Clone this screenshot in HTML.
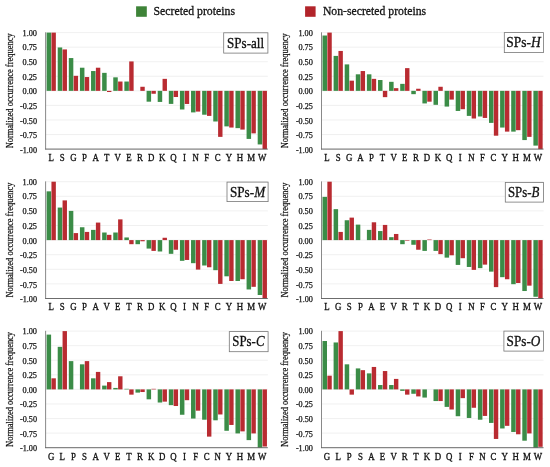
<!DOCTYPE html>
<html><head><meta charset="utf-8"><title>Normalized occurrence frequency</title>
<style>html,body{margin:0;padding:0;background:#fff}svg{display:block}</style></head><body>
<svg width="550" height="467" viewBox="0 0 550 467">
<rect width="550" height="467" fill="#fff"/>
<rect x="136.1" y="6.3" width="10.7" height="10.5" fill="#3e8338"/>
<text x="153.5" y="14.6" font-family="Liberation Serif, Times New Roman, serif" font-size="12.8" fill="#111" stroke="#111" stroke-width="0.3" textLength="81.5" lengthAdjust="spacingAndGlyphs">Secreted proteins</text>
<rect x="305.1" y="6.3" width="10.5" height="10.5" fill="#b2242a"/>
<text x="322.9" y="14.6" font-family="Liberation Serif, Times New Roman, serif" font-size="12.8" fill="#111" stroke="#111" stroke-width="0.3" textLength="103.2" lengthAdjust="spacingAndGlyphs">Non-secreted proteins</text>
<g>
<line x1="45.60" x2="267.80" y1="32.60" y2="32.60" stroke="#e6e6e6" stroke-width="0.6"/>
<text x="37.0" y="35.70" text-anchor="end" font-family="Liberation Serif, Times New Roman, serif" font-size="8.9" fill="#111" stroke="#111" stroke-width="0.25" textLength="14.5" lengthAdjust="spacingAndGlyphs" transform="translate(0.0,0)">1.00</text>
<line x1="45.60" x2="267.80" y1="47.16" y2="47.16" stroke="#e6e6e6" stroke-width="0.6"/>
<text x="37.0" y="50.34" text-anchor="end" font-family="Liberation Serif, Times New Roman, serif" font-size="8.9" fill="#111" stroke="#111" stroke-width="0.25" textLength="14.5" lengthAdjust="spacingAndGlyphs" transform="translate(0.0,0)">0.75</text>
<line x1="45.60" x2="267.80" y1="61.73" y2="61.73" stroke="#e6e6e6" stroke-width="0.6"/>
<text x="37.0" y="64.98" text-anchor="end" font-family="Liberation Serif, Times New Roman, serif" font-size="8.9" fill="#111" stroke="#111" stroke-width="0.25" textLength="14.5" lengthAdjust="spacingAndGlyphs" transform="translate(0.0,0)">0.50</text>
<line x1="45.60" x2="267.80" y1="76.29" y2="76.29" stroke="#e6e6e6" stroke-width="0.6"/>
<text x="37.0" y="79.61" text-anchor="end" font-family="Liberation Serif, Times New Roman, serif" font-size="8.9" fill="#111" stroke="#111" stroke-width="0.25" textLength="14.5" lengthAdjust="spacingAndGlyphs" transform="translate(0.0,0)">0.25</text>
<line x1="45.60" x2="267.80" y1="90.85" y2="90.85" stroke="#e6e6e6" stroke-width="0.6"/>
<text x="37.0" y="94.25" text-anchor="end" font-family="Liberation Serif, Times New Roman, serif" font-size="8.9" fill="#111" stroke="#111" stroke-width="0.25" textLength="14.5" lengthAdjust="spacingAndGlyphs" transform="translate(0.0,0)">0.00</text>
<line x1="45.60" x2="267.80" y1="105.41" y2="105.41" stroke="#e6e6e6" stroke-width="0.6"/>
<text x="37.0" y="108.89" text-anchor="end" font-family="Liberation Serif, Times New Roman, serif" font-size="8.9" fill="#111" stroke="#111" stroke-width="0.25" textLength="17.0" lengthAdjust="spacingAndGlyphs" transform="translate(0.0,0)">-0.25</text>
<line x1="45.60" x2="267.80" y1="119.97" y2="119.97" stroke="#e6e6e6" stroke-width="0.6"/>
<text x="37.0" y="123.52" text-anchor="end" font-family="Liberation Serif, Times New Roman, serif" font-size="8.9" fill="#111" stroke="#111" stroke-width="0.25" textLength="17.0" lengthAdjust="spacingAndGlyphs" transform="translate(0.0,0)">-0.50</text>
<line x1="45.60" x2="267.80" y1="134.54" y2="134.54" stroke="#e6e6e6" stroke-width="0.6"/>
<text x="37.0" y="138.16" text-anchor="end" font-family="Liberation Serif, Times New Roman, serif" font-size="8.9" fill="#111" stroke="#111" stroke-width="0.25" textLength="17.0" lengthAdjust="spacingAndGlyphs" transform="translate(0.0,0)">-0.75</text>
<line x1="45.60" x2="267.80" y1="149.10" y2="149.10" stroke="#e6e6e6" stroke-width="0.6"/>
<text x="37.0" y="152.80" text-anchor="end" font-family="Liberation Serif, Times New Roman, serif" font-size="8.9" fill="#111" stroke="#111" stroke-width="0.25" textLength="17.0" lengthAdjust="spacingAndGlyphs" transform="translate(0.0,0)">-1.00</text>
<rect x="46.60" y="32.60" width="4.5" height="58.25" fill="#3b8c47"/>
<rect x="51.45" y="32.60" width="4.4" height="58.25" fill="#b92b31"/>
<rect x="57.71" y="47.45" width="4.5" height="43.40" fill="#3b8c47"/>
<rect x="62.56" y="49.43" width="4.4" height="41.42" fill="#b92b31"/>
<rect x="68.82" y="58.06" width="4.5" height="32.79" fill="#3b8c47"/>
<rect x="73.67" y="75.82" width="4.4" height="15.03" fill="#b92b31"/>
<rect x="79.93" y="67.72" width="4.5" height="23.13" fill="#3b8c47"/>
<rect x="84.78" y="77.04" width="4.4" height="13.81" fill="#b92b31"/>
<rect x="91.04" y="71.04" width="4.5" height="19.80" fill="#3b8c47"/>
<rect x="95.89" y="67.72" width="4.4" height="23.13" fill="#b92b31"/>
<rect x="102.15" y="72.85" width="4.5" height="18.00" fill="#3b8c47"/>
<rect x="107.00" y="90.85" width="4.4" height="1.17" fill="#b92b31"/>
<rect x="113.26" y="77.34" width="4.5" height="13.51" fill="#3b8c47"/>
<rect x="118.11" y="81.53" width="4.4" height="9.32" fill="#b92b31"/>
<rect x="124.37" y="81.53" width="4.5" height="9.32" fill="#3b8c47"/>
<rect x="129.22" y="61.43" width="4.4" height="29.42" fill="#b92b31"/>
<rect x="140.33" y="86.77" width="4.4" height="4.08" fill="#b92b31"/>
<rect x="146.59" y="90.85" width="4.5" height="10.83" fill="#3b8c47"/>
<rect x="151.44" y="90.85" width="4.4" height="2.91" fill="#b92b31"/>
<rect x="157.70" y="90.85" width="4.5" height="11.07" fill="#3b8c47"/>
<rect x="162.55" y="78.85" width="4.4" height="12.00" fill="#b92b31"/>
<rect x="168.81" y="90.85" width="4.5" height="13.05" fill="#3b8c47"/>
<rect x="173.66" y="90.85" width="4.4" height="6.17" fill="#b92b31"/>
<rect x="179.92" y="90.85" width="4.5" height="18.64" fill="#3b8c47"/>
<rect x="184.77" y="90.85" width="4.4" height="13.11" fill="#b92b31"/>
<rect x="191.03" y="90.85" width="4.5" height="21.55" fill="#3b8c47"/>
<rect x="195.88" y="90.85" width="4.4" height="20.74" fill="#b92b31"/>
<rect x="202.14" y="90.85" width="4.5" height="23.88" fill="#3b8c47"/>
<rect x="206.99" y="90.85" width="4.4" height="25.05" fill="#b92b31"/>
<rect x="213.25" y="90.85" width="4.5" height="30.64" fill="#3b8c47"/>
<rect x="218.10" y="90.85" width="4.4" height="46.02" fill="#b92b31"/>
<rect x="224.36" y="90.85" width="4.5" height="35.53" fill="#3b8c47"/>
<rect x="229.21" y="90.85" width="4.4" height="36.70" fill="#b92b31"/>
<rect x="235.47" y="90.85" width="4.5" height="37.28" fill="#3b8c47"/>
<rect x="240.32" y="90.85" width="4.4" height="38.74" fill="#b92b31"/>
<rect x="246.58" y="90.85" width="4.5" height="48.06" fill="#3b8c47"/>
<rect x="251.43" y="90.85" width="4.4" height="42.52" fill="#b92b31"/>
<rect x="257.69" y="90.85" width="4.5" height="53.59" fill="#3b8c47"/>
<rect x="262.54" y="90.85" width="4.4" height="58.25" fill="#b92b31"/>
<line x1="45.60" x2="45.60" y1="32.30" y2="149.50" stroke="#7c7c7c" stroke-width="0.9"/>
<line x1="45.20" x2="267.80" y1="149.10" y2="149.10" stroke="#5c5c5c" stroke-width="0.9"/>
<text transform="translate(51.16,161.10) scale(0.94,1)" text-anchor="middle" font-family="Liberation Serif, Times New Roman, serif" font-size="9.4" fill="#111" stroke="#111" stroke-width="0.3">L</text>
<text transform="translate(62.27,161.10) scale(0.94,1)" text-anchor="middle" font-family="Liberation Serif, Times New Roman, serif" font-size="9.4" fill="#111" stroke="#111" stroke-width="0.3">S</text>
<text transform="translate(73.38,161.10) scale(0.94,1)" text-anchor="middle" font-family="Liberation Serif, Times New Roman, serif" font-size="9.4" fill="#111" stroke="#111" stroke-width="0.3">G</text>
<text transform="translate(84.49,161.10) scale(0.94,1)" text-anchor="middle" font-family="Liberation Serif, Times New Roman, serif" font-size="9.4" fill="#111" stroke="#111" stroke-width="0.3">P</text>
<text transform="translate(95.59,161.10) scale(0.94,1)" text-anchor="middle" font-family="Liberation Serif, Times New Roman, serif" font-size="9.4" fill="#111" stroke="#111" stroke-width="0.3">A</text>
<text transform="translate(106.71,161.10) scale(0.94,1)" text-anchor="middle" font-family="Liberation Serif, Times New Roman, serif" font-size="9.4" fill="#111" stroke="#111" stroke-width="0.3">T</text>
<text transform="translate(117.81,161.10) scale(0.94,1)" text-anchor="middle" font-family="Liberation Serif, Times New Roman, serif" font-size="9.4" fill="#111" stroke="#111" stroke-width="0.3">V</text>
<text transform="translate(128.93,161.10) scale(0.94,1)" text-anchor="middle" font-family="Liberation Serif, Times New Roman, serif" font-size="9.4" fill="#111" stroke="#111" stroke-width="0.3">E</text>
<text transform="translate(140.04,161.10) scale(0.94,1)" text-anchor="middle" font-family="Liberation Serif, Times New Roman, serif" font-size="9.4" fill="#111" stroke="#111" stroke-width="0.3">R</text>
<text transform="translate(151.15,161.10) scale(0.94,1)" text-anchor="middle" font-family="Liberation Serif, Times New Roman, serif" font-size="9.4" fill="#111" stroke="#111" stroke-width="0.3">D</text>
<text transform="translate(162.26,161.10) scale(0.94,1)" text-anchor="middle" font-family="Liberation Serif, Times New Roman, serif" font-size="9.4" fill="#111" stroke="#111" stroke-width="0.3">K</text>
<text transform="translate(173.37,161.10) scale(0.94,1)" text-anchor="middle" font-family="Liberation Serif, Times New Roman, serif" font-size="9.4" fill="#111" stroke="#111" stroke-width="0.3">Q</text>
<text transform="translate(184.48,161.10) scale(0.94,1)" text-anchor="middle" font-family="Liberation Serif, Times New Roman, serif" font-size="9.4" fill="#111" stroke="#111" stroke-width="0.3">I</text>
<text transform="translate(195.59,161.10) scale(0.94,1)" text-anchor="middle" font-family="Liberation Serif, Times New Roman, serif" font-size="9.4" fill="#111" stroke="#111" stroke-width="0.3">N</text>
<text transform="translate(206.70,161.10) scale(0.94,1)" text-anchor="middle" font-family="Liberation Serif, Times New Roman, serif" font-size="9.4" fill="#111" stroke="#111" stroke-width="0.3">F</text>
<text transform="translate(217.81,161.10) scale(0.94,1)" text-anchor="middle" font-family="Liberation Serif, Times New Roman, serif" font-size="9.4" fill="#111" stroke="#111" stroke-width="0.3">C</text>
<text transform="translate(228.92,161.10) scale(0.94,1)" text-anchor="middle" font-family="Liberation Serif, Times New Roman, serif" font-size="9.4" fill="#111" stroke="#111" stroke-width="0.3">Y</text>
<text transform="translate(240.03,161.10) scale(0.94,1)" text-anchor="middle" font-family="Liberation Serif, Times New Roman, serif" font-size="9.4" fill="#111" stroke="#111" stroke-width="0.3">H</text>
<text transform="translate(251.14,161.10) scale(0.94,1)" text-anchor="middle" font-family="Liberation Serif, Times New Roman, serif" font-size="9.4" fill="#111" stroke="#111" stroke-width="0.3">M</text>
<text transform="translate(262.25,161.10) scale(0.94,1)" text-anchor="middle" font-family="Liberation Serif, Times New Roman, serif" font-size="9.4" fill="#111" stroke="#111" stroke-width="0.3">W</text>
<text transform="translate(12.60,90.85) rotate(-90)" text-anchor="middle" font-family="Liberation Serif, Times New Roman, serif" font-size="9.6" fill="#111" stroke="#111" stroke-width="0.22" textLength="115" lengthAdjust="spacingAndGlyphs">Normalized occurrence frequency</text>
<rect x="223.7" y="32.8" width="44.20" height="20.30" fill="#fff" stroke="#777" stroke-width="0.8"/>
<text x="227.05" y="47.65" font-family="Liberation Serif, Times New Roman, serif" font-size="14.3" fill="#111" stroke="#111" stroke-width="0.3" textLength="37.1" lengthAdjust="spacingAndGlyphs">SPs-all</text>
</g>
<g>
<line x1="321.50" x2="543.50" y1="32.60" y2="32.60" stroke="#e6e6e6" stroke-width="0.6"/>
<text x="37.0" y="35.70" text-anchor="end" font-family="Liberation Serif, Times New Roman, serif" font-size="8.9" fill="#111" stroke="#111" stroke-width="0.25" textLength="14.5" lengthAdjust="spacingAndGlyphs" transform="translate(275.9,0)">1.00</text>
<line x1="321.50" x2="543.50" y1="47.16" y2="47.16" stroke="#e6e6e6" stroke-width="0.6"/>
<text x="37.0" y="50.34" text-anchor="end" font-family="Liberation Serif, Times New Roman, serif" font-size="8.9" fill="#111" stroke="#111" stroke-width="0.25" textLength="14.5" lengthAdjust="spacingAndGlyphs" transform="translate(275.9,0)">0.75</text>
<line x1="321.50" x2="543.50" y1="61.73" y2="61.73" stroke="#e6e6e6" stroke-width="0.6"/>
<text x="37.0" y="64.98" text-anchor="end" font-family="Liberation Serif, Times New Roman, serif" font-size="8.9" fill="#111" stroke="#111" stroke-width="0.25" textLength="14.5" lengthAdjust="spacingAndGlyphs" transform="translate(275.9,0)">0.50</text>
<line x1="321.50" x2="543.50" y1="76.29" y2="76.29" stroke="#e6e6e6" stroke-width="0.6"/>
<text x="37.0" y="79.61" text-anchor="end" font-family="Liberation Serif, Times New Roman, serif" font-size="8.9" fill="#111" stroke="#111" stroke-width="0.25" textLength="14.5" lengthAdjust="spacingAndGlyphs" transform="translate(275.9,0)">0.25</text>
<line x1="321.50" x2="543.50" y1="90.85" y2="90.85" stroke="#e6e6e6" stroke-width="0.6"/>
<text x="37.0" y="94.25" text-anchor="end" font-family="Liberation Serif, Times New Roman, serif" font-size="8.9" fill="#111" stroke="#111" stroke-width="0.25" textLength="14.5" lengthAdjust="spacingAndGlyphs" transform="translate(275.9,0)">0.00</text>
<line x1="321.50" x2="543.50" y1="105.41" y2="105.41" stroke="#e6e6e6" stroke-width="0.6"/>
<text x="37.0" y="108.89" text-anchor="end" font-family="Liberation Serif, Times New Roman, serif" font-size="8.9" fill="#111" stroke="#111" stroke-width="0.25" textLength="17.0" lengthAdjust="spacingAndGlyphs" transform="translate(275.9,0)">-0.25</text>
<line x1="321.50" x2="543.50" y1="119.97" y2="119.97" stroke="#e6e6e6" stroke-width="0.6"/>
<text x="37.0" y="123.52" text-anchor="end" font-family="Liberation Serif, Times New Roman, serif" font-size="8.9" fill="#111" stroke="#111" stroke-width="0.25" textLength="17.0" lengthAdjust="spacingAndGlyphs" transform="translate(275.9,0)">-0.50</text>
<line x1="321.50" x2="543.50" y1="134.54" y2="134.54" stroke="#e6e6e6" stroke-width="0.6"/>
<text x="37.0" y="138.16" text-anchor="end" font-family="Liberation Serif, Times New Roman, serif" font-size="8.9" fill="#111" stroke="#111" stroke-width="0.25" textLength="17.0" lengthAdjust="spacingAndGlyphs" transform="translate(275.9,0)">-0.75</text>
<line x1="321.50" x2="543.50" y1="149.10" y2="149.10" stroke="#e6e6e6" stroke-width="0.6"/>
<text x="37.0" y="152.80" text-anchor="end" font-family="Liberation Serif, Times New Roman, serif" font-size="8.9" fill="#111" stroke="#111" stroke-width="0.25" textLength="17.0" lengthAdjust="spacingAndGlyphs" transform="translate(275.9,0)">-1.00</text>
<rect x="322.50" y="35.51" width="4.5" height="55.34" fill="#3b8c47"/>
<rect x="327.35" y="32.60" width="4.4" height="58.25" fill="#b92b31"/>
<rect x="333.60" y="55.90" width="4.5" height="34.95" fill="#3b8c47"/>
<rect x="338.45" y="50.95" width="4.4" height="39.90" fill="#b92b31"/>
<rect x="344.70" y="64.40" width="4.5" height="26.45" fill="#3b8c47"/>
<rect x="349.55" y="80.66" width="4.4" height="10.19" fill="#b92b31"/>
<rect x="355.80" y="74.31" width="4.5" height="16.54" fill="#3b8c47"/>
<rect x="360.65" y="71.04" width="4.4" height="19.80" fill="#b92b31"/>
<rect x="366.90" y="74.31" width="4.5" height="16.54" fill="#3b8c47"/>
<rect x="371.75" y="78.85" width="4.4" height="12.00" fill="#b92b31"/>
<rect x="378.00" y="80.02" width="4.5" height="10.83" fill="#3b8c47"/>
<rect x="382.85" y="90.85" width="4.4" height="6.29" fill="#b92b31"/>
<rect x="389.10" y="81.82" width="4.5" height="9.03" fill="#3b8c47"/>
<rect x="393.95" y="88.17" width="4.4" height="2.68" fill="#b92b31"/>
<rect x="400.20" y="83.86" width="4.5" height="6.99" fill="#3b8c47"/>
<rect x="405.05" y="68.13" width="4.4" height="22.72" fill="#b92b31"/>
<rect x="411.30" y="90.85" width="4.5" height="3.32" fill="#3b8c47"/>
<rect x="416.15" y="88.75" width="4.4" height="2.10" fill="#b92b31"/>
<rect x="422.40" y="90.85" width="4.5" height="12.58" fill="#3b8c47"/>
<rect x="427.25" y="90.85" width="4.4" height="10.83" fill="#b92b31"/>
<rect x="433.50" y="90.85" width="4.5" height="13.98" fill="#3b8c47"/>
<rect x="438.35" y="86.77" width="4.4" height="4.08" fill="#b92b31"/>
<rect x="444.60" y="90.85" width="4.5" height="15.73" fill="#3b8c47"/>
<rect x="449.45" y="90.85" width="4.4" height="8.74" fill="#b92b31"/>
<rect x="455.70" y="90.85" width="4.5" height="20.10" fill="#3b8c47"/>
<rect x="460.55" y="90.85" width="4.4" height="18.35" fill="#b92b31"/>
<rect x="466.80" y="90.85" width="4.5" height="25.05" fill="#3b8c47"/>
<rect x="471.65" y="90.85" width="4.4" height="27.67" fill="#b92b31"/>
<rect x="477.90" y="90.85" width="4.5" height="25.63" fill="#3b8c47"/>
<rect x="482.75" y="90.85" width="4.4" height="27.09" fill="#b92b31"/>
<rect x="489.00" y="90.85" width="4.5" height="32.04" fill="#3b8c47"/>
<rect x="493.85" y="90.85" width="4.4" height="44.85" fill="#b92b31"/>
<rect x="500.10" y="90.85" width="4.5" height="36.70" fill="#3b8c47"/>
<rect x="504.95" y="90.85" width="4.4" height="40.77" fill="#b92b31"/>
<rect x="511.20" y="90.85" width="4.5" height="40.77" fill="#3b8c47"/>
<rect x="516.05" y="90.85" width="4.4" height="39.32" fill="#b92b31"/>
<rect x="522.30" y="90.85" width="4.5" height="49.22" fill="#3b8c47"/>
<rect x="527.15" y="90.85" width="4.4" height="46.02" fill="#b92b31"/>
<rect x="533.40" y="90.85" width="4.5" height="54.75" fill="#3b8c47"/>
<rect x="538.25" y="90.85" width="4.4" height="58.25" fill="#b92b31"/>
<line x1="321.50" x2="321.50" y1="32.30" y2="149.50" stroke="#7c7c7c" stroke-width="0.9"/>
<line x1="321.10" x2="543.50" y1="149.10" y2="149.10" stroke="#5c5c5c" stroke-width="0.9"/>
<text transform="translate(327.05,161.10) scale(0.94,1)" text-anchor="middle" font-family="Liberation Serif, Times New Roman, serif" font-size="9.4" fill="#111" stroke="#111" stroke-width="0.3">L</text>
<text transform="translate(338.15,161.10) scale(0.94,1)" text-anchor="middle" font-family="Liberation Serif, Times New Roman, serif" font-size="9.4" fill="#111" stroke="#111" stroke-width="0.3">S</text>
<text transform="translate(349.25,161.10) scale(0.94,1)" text-anchor="middle" font-family="Liberation Serif, Times New Roman, serif" font-size="9.4" fill="#111" stroke="#111" stroke-width="0.3">G</text>
<text transform="translate(360.35,161.10) scale(0.94,1)" text-anchor="middle" font-family="Liberation Serif, Times New Roman, serif" font-size="9.4" fill="#111" stroke="#111" stroke-width="0.3">A</text>
<text transform="translate(371.45,161.10) scale(0.94,1)" text-anchor="middle" font-family="Liberation Serif, Times New Roman, serif" font-size="9.4" fill="#111" stroke="#111" stroke-width="0.3">P</text>
<text transform="translate(382.55,161.10) scale(0.94,1)" text-anchor="middle" font-family="Liberation Serif, Times New Roman, serif" font-size="9.4" fill="#111" stroke="#111" stroke-width="0.3">T</text>
<text transform="translate(393.65,161.10) scale(0.94,1)" text-anchor="middle" font-family="Liberation Serif, Times New Roman, serif" font-size="9.4" fill="#111" stroke="#111" stroke-width="0.3">V</text>
<text transform="translate(404.75,161.10) scale(0.94,1)" text-anchor="middle" font-family="Liberation Serif, Times New Roman, serif" font-size="9.4" fill="#111" stroke="#111" stroke-width="0.3">E</text>
<text transform="translate(415.85,161.10) scale(0.94,1)" text-anchor="middle" font-family="Liberation Serif, Times New Roman, serif" font-size="9.4" fill="#111" stroke="#111" stroke-width="0.3">R</text>
<text transform="translate(426.95,161.10) scale(0.94,1)" text-anchor="middle" font-family="Liberation Serif, Times New Roman, serif" font-size="9.4" fill="#111" stroke="#111" stroke-width="0.3">D</text>
<text transform="translate(438.05,161.10) scale(0.94,1)" text-anchor="middle" font-family="Liberation Serif, Times New Roman, serif" font-size="9.4" fill="#111" stroke="#111" stroke-width="0.3">K</text>
<text transform="translate(449.15,161.10) scale(0.94,1)" text-anchor="middle" font-family="Liberation Serif, Times New Roman, serif" font-size="9.4" fill="#111" stroke="#111" stroke-width="0.3">Q</text>
<text transform="translate(460.25,161.10) scale(0.94,1)" text-anchor="middle" font-family="Liberation Serif, Times New Roman, serif" font-size="9.4" fill="#111" stroke="#111" stroke-width="0.3">I</text>
<text transform="translate(471.35,161.10) scale(0.94,1)" text-anchor="middle" font-family="Liberation Serif, Times New Roman, serif" font-size="9.4" fill="#111" stroke="#111" stroke-width="0.3">N</text>
<text transform="translate(482.45,161.10) scale(0.94,1)" text-anchor="middle" font-family="Liberation Serif, Times New Roman, serif" font-size="9.4" fill="#111" stroke="#111" stroke-width="0.3">F</text>
<text transform="translate(493.55,161.10) scale(0.94,1)" text-anchor="middle" font-family="Liberation Serif, Times New Roman, serif" font-size="9.4" fill="#111" stroke="#111" stroke-width="0.3">C</text>
<text transform="translate(504.65,161.10) scale(0.94,1)" text-anchor="middle" font-family="Liberation Serif, Times New Roman, serif" font-size="9.4" fill="#111" stroke="#111" stroke-width="0.3">Y</text>
<text transform="translate(515.75,161.10) scale(0.94,1)" text-anchor="middle" font-family="Liberation Serif, Times New Roman, serif" font-size="9.4" fill="#111" stroke="#111" stroke-width="0.3">H</text>
<text transform="translate(526.85,161.10) scale(0.94,1)" text-anchor="middle" font-family="Liberation Serif, Times New Roman, serif" font-size="9.4" fill="#111" stroke="#111" stroke-width="0.3">M</text>
<text transform="translate(537.95,161.10) scale(0.94,1)" text-anchor="middle" font-family="Liberation Serif, Times New Roman, serif" font-size="9.4" fill="#111" stroke="#111" stroke-width="0.3">W</text>
<text transform="translate(287.80,90.85) rotate(-90)" text-anchor="middle" font-family="Liberation Serif, Times New Roman, serif" font-size="9.6" fill="#111" stroke="#111" stroke-width="0.22" textLength="115" lengthAdjust="spacingAndGlyphs">Normalized occurrence frequency</text>
<rect x="504.3" y="32.6" width="39.20" height="20.00" fill="#fff" stroke="#777" stroke-width="0.8"/>
<text x="506.20" y="47.30" font-family="Liberation Serif, Times New Roman, serif" font-size="14.3" fill="#111" stroke="#111" stroke-width="0.3" textLength="34.5" lengthAdjust="spacingAndGlyphs">SPs-<tspan font-style="italic">H</tspan></text>
</g>
<g>
<line x1="45.60" x2="267.80" y1="181.70" y2="181.70" stroke="#e6e6e6" stroke-width="0.6"/>
<text x="37.0" y="184.80" text-anchor="end" font-family="Liberation Serif, Times New Roman, serif" font-size="8.9" fill="#111" stroke="#111" stroke-width="0.25" textLength="14.5" lengthAdjust="spacingAndGlyphs" transform="translate(0.0,0)">1.00</text>
<line x1="45.60" x2="267.80" y1="196.30" y2="196.30" stroke="#e6e6e6" stroke-width="0.6"/>
<text x="37.0" y="199.47" text-anchor="end" font-family="Liberation Serif, Times New Roman, serif" font-size="8.9" fill="#111" stroke="#111" stroke-width="0.25" textLength="14.5" lengthAdjust="spacingAndGlyphs" transform="translate(0.0,0)">0.75</text>
<line x1="45.60" x2="267.80" y1="210.90" y2="210.90" stroke="#e6e6e6" stroke-width="0.6"/>
<text x="37.0" y="214.15" text-anchor="end" font-family="Liberation Serif, Times New Roman, serif" font-size="8.9" fill="#111" stroke="#111" stroke-width="0.25" textLength="14.5" lengthAdjust="spacingAndGlyphs" transform="translate(0.0,0)">0.50</text>
<line x1="45.60" x2="267.80" y1="225.50" y2="225.50" stroke="#e6e6e6" stroke-width="0.6"/>
<text x="37.0" y="228.82" text-anchor="end" font-family="Liberation Serif, Times New Roman, serif" font-size="8.9" fill="#111" stroke="#111" stroke-width="0.25" textLength="14.5" lengthAdjust="spacingAndGlyphs" transform="translate(0.0,0)">0.25</text>
<line x1="45.60" x2="267.80" y1="240.10" y2="240.10" stroke="#e6e6e6" stroke-width="0.6"/>
<text x="37.0" y="243.50" text-anchor="end" font-family="Liberation Serif, Times New Roman, serif" font-size="8.9" fill="#111" stroke="#111" stroke-width="0.25" textLength="14.5" lengthAdjust="spacingAndGlyphs" transform="translate(0.0,0)">0.00</text>
<line x1="45.60" x2="267.80" y1="254.70" y2="254.70" stroke="#e6e6e6" stroke-width="0.6"/>
<text x="37.0" y="258.18" text-anchor="end" font-family="Liberation Serif, Times New Roman, serif" font-size="8.9" fill="#111" stroke="#111" stroke-width="0.25" textLength="17.0" lengthAdjust="spacingAndGlyphs" transform="translate(0.0,0)">-0.25</text>
<line x1="45.60" x2="267.80" y1="269.30" y2="269.30" stroke="#e6e6e6" stroke-width="0.6"/>
<text x="37.0" y="272.85" text-anchor="end" font-family="Liberation Serif, Times New Roman, serif" font-size="8.9" fill="#111" stroke="#111" stroke-width="0.25" textLength="17.0" lengthAdjust="spacingAndGlyphs" transform="translate(0.0,0)">-0.50</text>
<line x1="45.60" x2="267.80" y1="283.90" y2="283.90" stroke="#e6e6e6" stroke-width="0.6"/>
<text x="37.0" y="287.52" text-anchor="end" font-family="Liberation Serif, Times New Roman, serif" font-size="8.9" fill="#111" stroke="#111" stroke-width="0.25" textLength="17.0" lengthAdjust="spacingAndGlyphs" transform="translate(0.0,0)">-0.75</text>
<line x1="45.60" x2="267.80" y1="298.50" y2="298.50" stroke="#e6e6e6" stroke-width="0.6"/>
<text x="37.0" y="302.20" text-anchor="end" font-family="Liberation Serif, Times New Roman, serif" font-size="8.9" fill="#111" stroke="#111" stroke-width="0.25" textLength="17.0" lengthAdjust="spacingAndGlyphs" transform="translate(0.0,0)">-1.00</text>
<rect x="46.60" y="191.34" width="4.5" height="48.76" fill="#3b8c47"/>
<rect x="51.45" y="181.70" width="4.4" height="58.40" fill="#b92b31"/>
<rect x="57.71" y="207.57" width="4.5" height="32.53" fill="#3b8c47"/>
<rect x="62.56" y="200.39" width="4.4" height="39.71" fill="#b92b31"/>
<rect x="68.82" y="210.90" width="4.5" height="29.20" fill="#3b8c47"/>
<rect x="73.67" y="233.09" width="4.4" height="7.01" fill="#b92b31"/>
<rect x="79.93" y="227.25" width="4.5" height="12.85" fill="#3b8c47"/>
<rect x="84.78" y="231.92" width="4.4" height="8.18" fill="#b92b31"/>
<rect x="91.04" y="229.88" width="4.5" height="10.22" fill="#3b8c47"/>
<rect x="95.89" y="222.58" width="4.4" height="17.52" fill="#b92b31"/>
<rect x="102.15" y="232.51" width="4.5" height="7.59" fill="#3b8c47"/>
<rect x="107.00" y="234.84" width="4.4" height="5.26" fill="#b92b31"/>
<rect x="113.26" y="232.51" width="4.5" height="7.59" fill="#3b8c47"/>
<rect x="118.11" y="219.37" width="4.4" height="20.73" fill="#b92b31"/>
<rect x="124.37" y="237.47" width="4.5" height="2.63" fill="#3b8c47"/>
<rect x="129.22" y="240.10" width="4.4" height="4.09" fill="#b92b31"/>
<rect x="135.48" y="240.10" width="4.5" height="4.09" fill="#3b8c47"/>
<rect x="140.33" y="240.10" width="4.4" height="1.17" fill="#b92b31"/>
<rect x="146.59" y="240.10" width="4.5" height="8.47" fill="#3b8c47"/>
<rect x="151.44" y="240.10" width="4.4" height="10.80" fill="#b92b31"/>
<rect x="157.70" y="240.10" width="4.5" height="11.39" fill="#3b8c47"/>
<rect x="162.55" y="237.76" width="4.4" height="2.34" fill="#b92b31"/>
<rect x="168.81" y="240.10" width="4.5" height="13.72" fill="#3b8c47"/>
<rect x="173.66" y="240.10" width="4.4" height="9.64" fill="#b92b31"/>
<rect x="179.92" y="240.10" width="4.5" height="20.73" fill="#3b8c47"/>
<rect x="184.77" y="240.10" width="4.4" height="19.86" fill="#b92b31"/>
<rect x="191.03" y="240.10" width="4.5" height="23.07" fill="#3b8c47"/>
<rect x="195.88" y="240.10" width="4.4" height="29.49" fill="#b92b31"/>
<rect x="202.14" y="240.10" width="4.5" height="25.40" fill="#3b8c47"/>
<rect x="206.99" y="240.10" width="4.4" height="27.16" fill="#b92b31"/>
<rect x="213.25" y="240.10" width="4.5" height="30.08" fill="#3b8c47"/>
<rect x="218.10" y="240.10" width="4.4" height="43.80" fill="#b92b31"/>
<rect x="224.36" y="240.10" width="4.5" height="36.21" fill="#3b8c47"/>
<rect x="229.21" y="240.10" width="4.4" height="40.88" fill="#b92b31"/>
<rect x="235.47" y="240.10" width="4.5" height="40.88" fill="#3b8c47"/>
<rect x="240.32" y="240.10" width="4.4" height="39.13" fill="#b92b31"/>
<rect x="246.58" y="240.10" width="4.5" height="49.35" fill="#3b8c47"/>
<rect x="251.43" y="240.10" width="4.4" height="46.72" fill="#b92b31"/>
<rect x="257.69" y="240.10" width="4.5" height="54.90" fill="#3b8c47"/>
<rect x="262.54" y="240.10" width="4.4" height="58.40" fill="#b92b31"/>
<line x1="45.60" x2="45.60" y1="181.40" y2="298.90" stroke="#7c7c7c" stroke-width="0.9"/>
<line x1="45.20" x2="267.80" y1="298.50" y2="298.50" stroke="#5c5c5c" stroke-width="0.9"/>
<text transform="translate(51.16,310.30) scale(0.94,1)" text-anchor="middle" font-family="Liberation Serif, Times New Roman, serif" font-size="9.4" fill="#111" stroke="#111" stroke-width="0.3">L</text>
<text transform="translate(62.27,310.30) scale(0.94,1)" text-anchor="middle" font-family="Liberation Serif, Times New Roman, serif" font-size="9.4" fill="#111" stroke="#111" stroke-width="0.3">S</text>
<text transform="translate(73.38,310.30) scale(0.94,1)" text-anchor="middle" font-family="Liberation Serif, Times New Roman, serif" font-size="9.4" fill="#111" stroke="#111" stroke-width="0.3">G</text>
<text transform="translate(84.49,310.30) scale(0.94,1)" text-anchor="middle" font-family="Liberation Serif, Times New Roman, serif" font-size="9.4" fill="#111" stroke="#111" stroke-width="0.3">P</text>
<text transform="translate(95.59,310.30) scale(0.94,1)" text-anchor="middle" font-family="Liberation Serif, Times New Roman, serif" font-size="9.4" fill="#111" stroke="#111" stroke-width="0.3">A</text>
<text transform="translate(106.71,310.30) scale(0.94,1)" text-anchor="middle" font-family="Liberation Serif, Times New Roman, serif" font-size="9.4" fill="#111" stroke="#111" stroke-width="0.3">V</text>
<text transform="translate(117.81,310.30) scale(0.94,1)" text-anchor="middle" font-family="Liberation Serif, Times New Roman, serif" font-size="9.4" fill="#111" stroke="#111" stroke-width="0.3">E</text>
<text transform="translate(128.93,310.30) scale(0.94,1)" text-anchor="middle" font-family="Liberation Serif, Times New Roman, serif" font-size="9.4" fill="#111" stroke="#111" stroke-width="0.3">T</text>
<text transform="translate(140.04,310.30) scale(0.94,1)" text-anchor="middle" font-family="Liberation Serif, Times New Roman, serif" font-size="9.4" fill="#111" stroke="#111" stroke-width="0.3">R</text>
<text transform="translate(151.15,310.30) scale(0.94,1)" text-anchor="middle" font-family="Liberation Serif, Times New Roman, serif" font-size="9.4" fill="#111" stroke="#111" stroke-width="0.3">D</text>
<text transform="translate(162.26,310.30) scale(0.94,1)" text-anchor="middle" font-family="Liberation Serif, Times New Roman, serif" font-size="9.4" fill="#111" stroke="#111" stroke-width="0.3">K</text>
<text transform="translate(173.37,310.30) scale(0.94,1)" text-anchor="middle" font-family="Liberation Serif, Times New Roman, serif" font-size="9.4" fill="#111" stroke="#111" stroke-width="0.3">Q</text>
<text transform="translate(184.48,310.30) scale(0.94,1)" text-anchor="middle" font-family="Liberation Serif, Times New Roman, serif" font-size="9.4" fill="#111" stroke="#111" stroke-width="0.3">I</text>
<text transform="translate(195.59,310.30) scale(0.94,1)" text-anchor="middle" font-family="Liberation Serif, Times New Roman, serif" font-size="9.4" fill="#111" stroke="#111" stroke-width="0.3">N</text>
<text transform="translate(206.70,310.30) scale(0.94,1)" text-anchor="middle" font-family="Liberation Serif, Times New Roman, serif" font-size="9.4" fill="#111" stroke="#111" stroke-width="0.3">F</text>
<text transform="translate(217.81,310.30) scale(0.94,1)" text-anchor="middle" font-family="Liberation Serif, Times New Roman, serif" font-size="9.4" fill="#111" stroke="#111" stroke-width="0.3">C</text>
<text transform="translate(228.92,310.30) scale(0.94,1)" text-anchor="middle" font-family="Liberation Serif, Times New Roman, serif" font-size="9.4" fill="#111" stroke="#111" stroke-width="0.3">Y</text>
<text transform="translate(240.03,310.30) scale(0.94,1)" text-anchor="middle" font-family="Liberation Serif, Times New Roman, serif" font-size="9.4" fill="#111" stroke="#111" stroke-width="0.3">H</text>
<text transform="translate(251.14,310.30) scale(0.94,1)" text-anchor="middle" font-family="Liberation Serif, Times New Roman, serif" font-size="9.4" fill="#111" stroke="#111" stroke-width="0.3">M</text>
<text transform="translate(262.25,310.30) scale(0.94,1)" text-anchor="middle" font-family="Liberation Serif, Times New Roman, serif" font-size="9.4" fill="#111" stroke="#111" stroke-width="0.3">W</text>
<text transform="translate(12.60,240.10) rotate(-90)" text-anchor="middle" font-family="Liberation Serif, Times New Roman, serif" font-size="9.6" fill="#111" stroke="#111" stroke-width="0.22" textLength="115" lengthAdjust="spacingAndGlyphs">Normalized occurrence frequency</text>
<rect x="227.0" y="182.1" width="41.10" height="19.50" fill="#fff" stroke="#777" stroke-width="0.8"/>
<text x="229.95" y="196.55" font-family="Liberation Serif, Times New Roman, serif" font-size="14.3" fill="#111" stroke="#111" stroke-width="0.3" textLength="35.2" lengthAdjust="spacingAndGlyphs">SPs-<tspan font-style="italic">M</tspan></text>
</g>
<g>
<line x1="321.50" x2="543.50" y1="181.70" y2="181.70" stroke="#e6e6e6" stroke-width="0.6"/>
<text x="37.0" y="184.80" text-anchor="end" font-family="Liberation Serif, Times New Roman, serif" font-size="8.9" fill="#111" stroke="#111" stroke-width="0.25" textLength="14.5" lengthAdjust="spacingAndGlyphs" transform="translate(275.9,0)">1.00</text>
<line x1="321.50" x2="543.50" y1="196.30" y2="196.30" stroke="#e6e6e6" stroke-width="0.6"/>
<text x="37.0" y="199.47" text-anchor="end" font-family="Liberation Serif, Times New Roman, serif" font-size="8.9" fill="#111" stroke="#111" stroke-width="0.25" textLength="14.5" lengthAdjust="spacingAndGlyphs" transform="translate(275.9,0)">0.75</text>
<line x1="321.50" x2="543.50" y1="210.90" y2="210.90" stroke="#e6e6e6" stroke-width="0.6"/>
<text x="37.0" y="214.15" text-anchor="end" font-family="Liberation Serif, Times New Roman, serif" font-size="8.9" fill="#111" stroke="#111" stroke-width="0.25" textLength="14.5" lengthAdjust="spacingAndGlyphs" transform="translate(275.9,0)">0.50</text>
<line x1="321.50" x2="543.50" y1="225.50" y2="225.50" stroke="#e6e6e6" stroke-width="0.6"/>
<text x="37.0" y="228.82" text-anchor="end" font-family="Liberation Serif, Times New Roman, serif" font-size="8.9" fill="#111" stroke="#111" stroke-width="0.25" textLength="14.5" lengthAdjust="spacingAndGlyphs" transform="translate(275.9,0)">0.25</text>
<line x1="321.50" x2="543.50" y1="240.10" y2="240.10" stroke="#e6e6e6" stroke-width="0.6"/>
<text x="37.0" y="243.50" text-anchor="end" font-family="Liberation Serif, Times New Roman, serif" font-size="8.9" fill="#111" stroke="#111" stroke-width="0.25" textLength="14.5" lengthAdjust="spacingAndGlyphs" transform="translate(275.9,0)">0.00</text>
<line x1="321.50" x2="543.50" y1="254.70" y2="254.70" stroke="#e6e6e6" stroke-width="0.6"/>
<text x="37.0" y="258.18" text-anchor="end" font-family="Liberation Serif, Times New Roman, serif" font-size="8.9" fill="#111" stroke="#111" stroke-width="0.25" textLength="17.0" lengthAdjust="spacingAndGlyphs" transform="translate(275.9,0)">-0.25</text>
<line x1="321.50" x2="543.50" y1="269.30" y2="269.30" stroke="#e6e6e6" stroke-width="0.6"/>
<text x="37.0" y="272.85" text-anchor="end" font-family="Liberation Serif, Times New Roman, serif" font-size="8.9" fill="#111" stroke="#111" stroke-width="0.25" textLength="17.0" lengthAdjust="spacingAndGlyphs" transform="translate(275.9,0)">-0.50</text>
<line x1="321.50" x2="543.50" y1="283.90" y2="283.90" stroke="#e6e6e6" stroke-width="0.6"/>
<text x="37.0" y="287.52" text-anchor="end" font-family="Liberation Serif, Times New Roman, serif" font-size="8.9" fill="#111" stroke="#111" stroke-width="0.25" textLength="17.0" lengthAdjust="spacingAndGlyphs" transform="translate(275.9,0)">-0.75</text>
<line x1="321.50" x2="543.50" y1="298.50" y2="298.50" stroke="#e6e6e6" stroke-width="0.6"/>
<text x="37.0" y="302.20" text-anchor="end" font-family="Liberation Serif, Times New Roman, serif" font-size="8.9" fill="#111" stroke="#111" stroke-width="0.25" textLength="17.0" lengthAdjust="spacingAndGlyphs" transform="translate(275.9,0)">-1.00</text>
<rect x="322.50" y="196.88" width="4.5" height="43.22" fill="#3b8c47"/>
<rect x="327.35" y="181.70" width="4.4" height="58.40" fill="#b92b31"/>
<rect x="333.60" y="209.15" width="4.5" height="30.95" fill="#3b8c47"/>
<rect x="338.45" y="231.92" width="4.4" height="8.18" fill="#b92b31"/>
<rect x="344.70" y="220.24" width="4.5" height="19.86" fill="#3b8c47"/>
<rect x="349.55" y="217.62" width="4.4" height="22.48" fill="#b92b31"/>
<rect x="355.80" y="224.62" width="4.5" height="15.48" fill="#3b8c47"/>
<rect x="366.90" y="229.88" width="4.5" height="10.22" fill="#3b8c47"/>
<rect x="371.75" y="222.29" width="4.4" height="17.81" fill="#b92b31"/>
<rect x="378.00" y="231.05" width="4.5" height="9.05" fill="#3b8c47"/>
<rect x="382.85" y="224.92" width="4.4" height="15.18" fill="#b92b31"/>
<rect x="389.10" y="237.18" width="4.5" height="2.92" fill="#3b8c47"/>
<rect x="393.95" y="233.97" width="4.4" height="6.13" fill="#b92b31"/>
<rect x="400.20" y="240.10" width="4.5" height="4.09" fill="#3b8c47"/>
<rect x="405.05" y="240.10" width="4.4" height="0.58" fill="#b92b31"/>
<rect x="411.30" y="240.10" width="4.5" height="4.67" fill="#3b8c47"/>
<rect x="416.15" y="240.10" width="4.4" height="9.64" fill="#b92b31"/>
<rect x="422.40" y="240.10" width="4.5" height="10.80" fill="#3b8c47"/>
<rect x="427.25" y="239.52" width="4.4" height="0.58" fill="#b92b31"/>
<rect x="433.50" y="240.10" width="4.5" height="10.80" fill="#3b8c47"/>
<rect x="438.35" y="240.10" width="4.4" height="14.02" fill="#b92b31"/>
<rect x="444.60" y="240.10" width="4.5" height="17.52" fill="#3b8c47"/>
<rect x="449.45" y="240.10" width="4.4" height="15.18" fill="#b92b31"/>
<rect x="455.70" y="240.10" width="4.5" height="24.82" fill="#3b8c47"/>
<rect x="460.55" y="240.10" width="4.4" height="18.10" fill="#b92b31"/>
<rect x="466.80" y="240.10" width="4.5" height="26.86" fill="#3b8c47"/>
<rect x="471.65" y="240.10" width="4.4" height="29.78" fill="#b92b31"/>
<rect x="477.90" y="240.10" width="4.5" height="28.03" fill="#3b8c47"/>
<rect x="482.75" y="240.10" width="4.4" height="24.53" fill="#b92b31"/>
<rect x="489.00" y="240.10" width="4.5" height="31.54" fill="#3b8c47"/>
<rect x="493.85" y="240.10" width="4.4" height="47.01" fill="#b92b31"/>
<rect x="500.10" y="240.10" width="4.5" height="37.08" fill="#3b8c47"/>
<rect x="504.95" y="240.10" width="4.4" height="39.13" fill="#b92b31"/>
<rect x="511.20" y="240.10" width="4.5" height="44.09" fill="#3b8c47"/>
<rect x="516.05" y="240.10" width="4.4" height="42.92" fill="#b92b31"/>
<rect x="522.30" y="240.10" width="4.5" height="50.92" fill="#3b8c47"/>
<rect x="527.15" y="240.10" width="4.4" height="45.55" fill="#b92b31"/>
<rect x="533.40" y="240.10" width="4.5" height="56.65" fill="#3b8c47"/>
<rect x="538.25" y="240.10" width="4.4" height="58.40" fill="#b92b31"/>
<line x1="321.50" x2="321.50" y1="181.40" y2="298.90" stroke="#7c7c7c" stroke-width="0.9"/>
<line x1="321.10" x2="543.50" y1="298.50" y2="298.50" stroke="#5c5c5c" stroke-width="0.9"/>
<text transform="translate(327.05,310.30) scale(0.94,1)" text-anchor="middle" font-family="Liberation Serif, Times New Roman, serif" font-size="9.4" fill="#111" stroke="#111" stroke-width="0.3">L</text>
<text transform="translate(338.15,310.30) scale(0.94,1)" text-anchor="middle" font-family="Liberation Serif, Times New Roman, serif" font-size="9.4" fill="#111" stroke="#111" stroke-width="0.3">G</text>
<text transform="translate(349.25,310.30) scale(0.94,1)" text-anchor="middle" font-family="Liberation Serif, Times New Roman, serif" font-size="9.4" fill="#111" stroke="#111" stroke-width="0.3">S</text>
<text transform="translate(360.35,310.30) scale(0.94,1)" text-anchor="middle" font-family="Liberation Serif, Times New Roman, serif" font-size="9.4" fill="#111" stroke="#111" stroke-width="0.3">P</text>
<text transform="translate(371.45,310.30) scale(0.94,1)" text-anchor="middle" font-family="Liberation Serif, Times New Roman, serif" font-size="9.4" fill="#111" stroke="#111" stroke-width="0.3">A</text>
<text transform="translate(382.55,310.30) scale(0.94,1)" text-anchor="middle" font-family="Liberation Serif, Times New Roman, serif" font-size="9.4" fill="#111" stroke="#111" stroke-width="0.3">E</text>
<text transform="translate(393.65,310.30) scale(0.94,1)" text-anchor="middle" font-family="Liberation Serif, Times New Roman, serif" font-size="9.4" fill="#111" stroke="#111" stroke-width="0.3">V</text>
<text transform="translate(404.75,310.30) scale(0.94,1)" text-anchor="middle" font-family="Liberation Serif, Times New Roman, serif" font-size="9.4" fill="#111" stroke="#111" stroke-width="0.3">R</text>
<text transform="translate(415.85,310.30) scale(0.94,1)" text-anchor="middle" font-family="Liberation Serif, Times New Roman, serif" font-size="9.4" fill="#111" stroke="#111" stroke-width="0.3">T</text>
<text transform="translate(426.95,310.30) scale(0.94,1)" text-anchor="middle" font-family="Liberation Serif, Times New Roman, serif" font-size="9.4" fill="#111" stroke="#111" stroke-width="0.3">K</text>
<text transform="translate(438.05,310.30) scale(0.94,1)" text-anchor="middle" font-family="Liberation Serif, Times New Roman, serif" font-size="9.4" fill="#111" stroke="#111" stroke-width="0.3">D</text>
<text transform="translate(449.15,310.30) scale(0.94,1)" text-anchor="middle" font-family="Liberation Serif, Times New Roman, serif" font-size="9.4" fill="#111" stroke="#111" stroke-width="0.3">Q</text>
<text transform="translate(460.25,310.30) scale(0.94,1)" text-anchor="middle" font-family="Liberation Serif, Times New Roman, serif" font-size="9.4" fill="#111" stroke="#111" stroke-width="0.3">I</text>
<text transform="translate(471.35,310.30) scale(0.94,1)" text-anchor="middle" font-family="Liberation Serif, Times New Roman, serif" font-size="9.4" fill="#111" stroke="#111" stroke-width="0.3">N</text>
<text transform="translate(482.45,310.30) scale(0.94,1)" text-anchor="middle" font-family="Liberation Serif, Times New Roman, serif" font-size="9.4" fill="#111" stroke="#111" stroke-width="0.3">F</text>
<text transform="translate(493.55,310.30) scale(0.94,1)" text-anchor="middle" font-family="Liberation Serif, Times New Roman, serif" font-size="9.4" fill="#111" stroke="#111" stroke-width="0.3">C</text>
<text transform="translate(504.65,310.30) scale(0.94,1)" text-anchor="middle" font-family="Liberation Serif, Times New Roman, serif" font-size="9.4" fill="#111" stroke="#111" stroke-width="0.3">Y</text>
<text transform="translate(515.75,310.30) scale(0.94,1)" text-anchor="middle" font-family="Liberation Serif, Times New Roman, serif" font-size="9.4" fill="#111" stroke="#111" stroke-width="0.3">H</text>
<text transform="translate(526.85,310.30) scale(0.94,1)" text-anchor="middle" font-family="Liberation Serif, Times New Roman, serif" font-size="9.4" fill="#111" stroke="#111" stroke-width="0.3">M</text>
<text transform="translate(537.95,310.30) scale(0.94,1)" text-anchor="middle" font-family="Liberation Serif, Times New Roman, serif" font-size="9.4" fill="#111" stroke="#111" stroke-width="0.3">W</text>
<text transform="translate(287.80,240.10) rotate(-90)" text-anchor="middle" font-family="Liberation Serif, Times New Roman, serif" font-size="9.6" fill="#111" stroke="#111" stroke-width="0.22" textLength="115" lengthAdjust="spacingAndGlyphs">Normalized occurrence frequency</text>
<rect x="505.3" y="182.4" width="38.20" height="19.70" fill="#fff" stroke="#777" stroke-width="0.8"/>
<text x="507.90" y="196.95" font-family="Liberation Serif, Times New Roman, serif" font-size="14.3" fill="#111" stroke="#111" stroke-width="0.3" textLength="31.4" lengthAdjust="spacingAndGlyphs">SPs-<tspan font-style="italic">B</tspan></text>
</g>
<g>
<line x1="45.60" x2="267.80" y1="331.10" y2="331.10" stroke="#e6e6e6" stroke-width="0.6"/>
<text x="37.0" y="334.20" text-anchor="end" font-family="Liberation Serif, Times New Roman, serif" font-size="8.9" fill="#111" stroke="#111" stroke-width="0.25" textLength="14.5" lengthAdjust="spacingAndGlyphs" transform="translate(0.0,0)">1.00</text>
<line x1="45.60" x2="267.80" y1="345.68" y2="345.68" stroke="#e6e6e6" stroke-width="0.6"/>
<text x="37.0" y="348.85" text-anchor="end" font-family="Liberation Serif, Times New Roman, serif" font-size="8.9" fill="#111" stroke="#111" stroke-width="0.25" textLength="14.5" lengthAdjust="spacingAndGlyphs" transform="translate(0.0,0)">0.75</text>
<line x1="45.60" x2="267.80" y1="360.25" y2="360.25" stroke="#e6e6e6" stroke-width="0.6"/>
<text x="37.0" y="363.50" text-anchor="end" font-family="Liberation Serif, Times New Roman, serif" font-size="8.9" fill="#111" stroke="#111" stroke-width="0.25" textLength="14.5" lengthAdjust="spacingAndGlyphs" transform="translate(0.0,0)">0.50</text>
<line x1="45.60" x2="267.80" y1="374.82" y2="374.82" stroke="#e6e6e6" stroke-width="0.6"/>
<text x="37.0" y="378.15" text-anchor="end" font-family="Liberation Serif, Times New Roman, serif" font-size="8.9" fill="#111" stroke="#111" stroke-width="0.25" textLength="14.5" lengthAdjust="spacingAndGlyphs" transform="translate(0.0,0)">0.25</text>
<line x1="45.60" x2="267.80" y1="389.40" y2="389.40" stroke="#e6e6e6" stroke-width="0.6"/>
<text x="37.0" y="392.80" text-anchor="end" font-family="Liberation Serif, Times New Roman, serif" font-size="8.9" fill="#111" stroke="#111" stroke-width="0.25" textLength="14.5" lengthAdjust="spacingAndGlyphs" transform="translate(0.0,0)">0.00</text>
<line x1="45.60" x2="267.80" y1="403.98" y2="403.98" stroke="#e6e6e6" stroke-width="0.6"/>
<text x="37.0" y="407.45" text-anchor="end" font-family="Liberation Serif, Times New Roman, serif" font-size="8.9" fill="#111" stroke="#111" stroke-width="0.25" textLength="17.0" lengthAdjust="spacingAndGlyphs" transform="translate(0.0,0)">-0.25</text>
<line x1="45.60" x2="267.80" y1="418.55" y2="418.55" stroke="#e6e6e6" stroke-width="0.6"/>
<text x="37.0" y="422.10" text-anchor="end" font-family="Liberation Serif, Times New Roman, serif" font-size="8.9" fill="#111" stroke="#111" stroke-width="0.25" textLength="17.0" lengthAdjust="spacingAndGlyphs" transform="translate(0.0,0)">-0.50</text>
<line x1="45.60" x2="267.80" y1="433.12" y2="433.12" stroke="#e6e6e6" stroke-width="0.6"/>
<text x="37.0" y="436.75" text-anchor="end" font-family="Liberation Serif, Times New Roman, serif" font-size="8.9" fill="#111" stroke="#111" stroke-width="0.25" textLength="17.0" lengthAdjust="spacingAndGlyphs" transform="translate(0.0,0)">-0.75</text>
<line x1="45.60" x2="267.80" y1="447.70" y2="447.70" stroke="#e6e6e6" stroke-width="0.6"/>
<text x="37.0" y="451.40" text-anchor="end" font-family="Liberation Serif, Times New Roman, serif" font-size="8.9" fill="#111" stroke="#111" stroke-width="0.25" textLength="17.0" lengthAdjust="spacingAndGlyphs" transform="translate(0.0,0)">-1.00</text>
<rect x="46.60" y="334.60" width="4.5" height="54.80" fill="#3b8c47"/>
<rect x="51.45" y="378.32" width="4.4" height="11.08" fill="#b92b31"/>
<rect x="57.71" y="346.84" width="4.5" height="42.56" fill="#3b8c47"/>
<rect x="62.56" y="331.10" width="4.4" height="58.30" fill="#b92b31"/>
<rect x="68.82" y="361.12" width="4.5" height="28.28" fill="#3b8c47"/>
<rect x="79.93" y="364.33" width="4.5" height="25.07" fill="#3b8c47"/>
<rect x="84.78" y="361.12" width="4.4" height="28.28" fill="#b92b31"/>
<rect x="91.04" y="378.32" width="4.5" height="11.08" fill="#3b8c47"/>
<rect x="95.89" y="371.91" width="4.4" height="17.49" fill="#b92b31"/>
<rect x="102.15" y="385.61" width="4.5" height="3.79" fill="#3b8c47"/>
<rect x="107.00" y="382.11" width="4.4" height="7.29" fill="#b92b31"/>
<rect x="113.26" y="387.94" width="4.5" height="1.46" fill="#3b8c47"/>
<rect x="118.11" y="376.28" width="4.4" height="13.12" fill="#b92b31"/>
<rect x="124.37" y="388.82" width="4.5" height="0.58" fill="#3b8c47"/>
<rect x="129.22" y="389.40" width="4.4" height="5.25" fill="#b92b31"/>
<rect x="135.48" y="389.40" width="4.5" height="3.21" fill="#3b8c47"/>
<rect x="140.33" y="389.40" width="4.4" height="2.62" fill="#b92b31"/>
<rect x="146.59" y="389.40" width="4.5" height="9.91" fill="#3b8c47"/>
<rect x="151.44" y="388.82" width="4.4" height="0.58" fill="#b92b31"/>
<rect x="157.70" y="389.40" width="4.5" height="13.12" fill="#3b8c47"/>
<rect x="162.55" y="389.40" width="4.4" height="12.24" fill="#b92b31"/>
<rect x="168.81" y="389.40" width="4.5" height="15.74" fill="#3b8c47"/>
<rect x="173.66" y="389.40" width="4.4" height="16.62" fill="#b92b31"/>
<rect x="179.92" y="389.40" width="4.5" height="25.36" fill="#3b8c47"/>
<rect x="184.77" y="389.40" width="4.4" height="10.79" fill="#b92b31"/>
<rect x="191.03" y="389.40" width="4.5" height="29.15" fill="#3b8c47"/>
<rect x="195.88" y="389.40" width="4.4" height="21.28" fill="#b92b31"/>
<rect x="202.14" y="389.40" width="4.5" height="30.32" fill="#3b8c47"/>
<rect x="206.99" y="389.40" width="4.4" height="47.22" fill="#b92b31"/>
<rect x="213.25" y="389.40" width="4.5" height="30.90" fill="#3b8c47"/>
<rect x="218.10" y="389.40" width="4.4" height="25.07" fill="#b92b31"/>
<rect x="224.36" y="389.40" width="4.5" height="41.39" fill="#3b8c47"/>
<rect x="229.21" y="389.40" width="4.4" height="35.56" fill="#b92b31"/>
<rect x="235.47" y="389.40" width="4.5" height="44.02" fill="#3b8c47"/>
<rect x="240.32" y="389.40" width="4.4" height="41.98" fill="#b92b31"/>
<rect x="246.58" y="389.40" width="4.5" height="50.72" fill="#3b8c47"/>
<rect x="251.43" y="389.40" width="4.4" height="44.02" fill="#b92b31"/>
<rect x="257.69" y="389.40" width="4.5" height="58.30" fill="#3b8c47"/>
<rect x="262.54" y="389.40" width="4.4" height="57.13" fill="#b92b31"/>
<line x1="45.60" x2="45.60" y1="330.80" y2="448.10" stroke="#7c7c7c" stroke-width="0.9"/>
<line x1="45.20" x2="267.80" y1="447.70" y2="447.70" stroke="#5c5c5c" stroke-width="0.9"/>
<text transform="translate(51.16,460.00) scale(0.94,1)" text-anchor="middle" font-family="Liberation Serif, Times New Roman, serif" font-size="9.4" fill="#111" stroke="#111" stroke-width="0.3">G</text>
<text transform="translate(62.27,460.00) scale(0.94,1)" text-anchor="middle" font-family="Liberation Serif, Times New Roman, serif" font-size="9.4" fill="#111" stroke="#111" stroke-width="0.3">L</text>
<text transform="translate(73.38,460.00) scale(0.94,1)" text-anchor="middle" font-family="Liberation Serif, Times New Roman, serif" font-size="9.4" fill="#111" stroke="#111" stroke-width="0.3">P</text>
<text transform="translate(84.49,460.00) scale(0.94,1)" text-anchor="middle" font-family="Liberation Serif, Times New Roman, serif" font-size="9.4" fill="#111" stroke="#111" stroke-width="0.3">S</text>
<text transform="translate(95.59,460.00) scale(0.94,1)" text-anchor="middle" font-family="Liberation Serif, Times New Roman, serif" font-size="9.4" fill="#111" stroke="#111" stroke-width="0.3">A</text>
<text transform="translate(106.71,460.00) scale(0.94,1)" text-anchor="middle" font-family="Liberation Serif, Times New Roman, serif" font-size="9.4" fill="#111" stroke="#111" stroke-width="0.3">V</text>
<text transform="translate(117.81,460.00) scale(0.94,1)" text-anchor="middle" font-family="Liberation Serif, Times New Roman, serif" font-size="9.4" fill="#111" stroke="#111" stroke-width="0.3">E</text>
<text transform="translate(128.93,460.00) scale(0.94,1)" text-anchor="middle" font-family="Liberation Serif, Times New Roman, serif" font-size="9.4" fill="#111" stroke="#111" stroke-width="0.3">T</text>
<text transform="translate(140.04,460.00) scale(0.94,1)" text-anchor="middle" font-family="Liberation Serif, Times New Roman, serif" font-size="9.4" fill="#111" stroke="#111" stroke-width="0.3">R</text>
<text transform="translate(151.15,460.00) scale(0.94,1)" text-anchor="middle" font-family="Liberation Serif, Times New Roman, serif" font-size="9.4" fill="#111" stroke="#111" stroke-width="0.3">K</text>
<text transform="translate(162.26,460.00) scale(0.94,1)" text-anchor="middle" font-family="Liberation Serif, Times New Roman, serif" font-size="9.4" fill="#111" stroke="#111" stroke-width="0.3">D</text>
<text transform="translate(173.37,460.00) scale(0.94,1)" text-anchor="middle" font-family="Liberation Serif, Times New Roman, serif" font-size="9.4" fill="#111" stroke="#111" stroke-width="0.3">Q</text>
<text transform="translate(184.48,460.00) scale(0.94,1)" text-anchor="middle" font-family="Liberation Serif, Times New Roman, serif" font-size="9.4" fill="#111" stroke="#111" stroke-width="0.3">I</text>
<text transform="translate(195.59,460.00) scale(0.94,1)" text-anchor="middle" font-family="Liberation Serif, Times New Roman, serif" font-size="9.4" fill="#111" stroke="#111" stroke-width="0.3">F</text>
<text transform="translate(206.70,460.00) scale(0.94,1)" text-anchor="middle" font-family="Liberation Serif, Times New Roman, serif" font-size="9.4" fill="#111" stroke="#111" stroke-width="0.3">C</text>
<text transform="translate(217.81,460.00) scale(0.94,1)" text-anchor="middle" font-family="Liberation Serif, Times New Roman, serif" font-size="9.4" fill="#111" stroke="#111" stroke-width="0.3">N</text>
<text transform="translate(228.92,460.00) scale(0.94,1)" text-anchor="middle" font-family="Liberation Serif, Times New Roman, serif" font-size="9.4" fill="#111" stroke="#111" stroke-width="0.3">Y</text>
<text transform="translate(240.03,460.00) scale(0.94,1)" text-anchor="middle" font-family="Liberation Serif, Times New Roman, serif" font-size="9.4" fill="#111" stroke="#111" stroke-width="0.3">H</text>
<text transform="translate(251.14,460.00) scale(0.94,1)" text-anchor="middle" font-family="Liberation Serif, Times New Roman, serif" font-size="9.4" fill="#111" stroke="#111" stroke-width="0.3">M</text>
<text transform="translate(262.25,460.00) scale(0.94,1)" text-anchor="middle" font-family="Liberation Serif, Times New Roman, serif" font-size="9.4" fill="#111" stroke="#111" stroke-width="0.3">W</text>
<text transform="translate(12.60,389.40) rotate(-90)" text-anchor="middle" font-family="Liberation Serif, Times New Roman, serif" font-size="9.6" fill="#111" stroke="#111" stroke-width="0.22" textLength="115" lengthAdjust="spacingAndGlyphs">Normalized occurrence frequency</text>
<rect x="229.3" y="331.6" width="38.80" height="20.10" fill="#fff" stroke="#777" stroke-width="0.8"/>
<text x="232.35" y="346.35" font-family="Liberation Serif, Times New Roman, serif" font-size="14.3" fill="#111" stroke="#111" stroke-width="0.3" textLength="32.1" lengthAdjust="spacingAndGlyphs">SPs-<tspan font-style="italic">C</tspan></text>
</g>
<g>
<line x1="321.50" x2="543.50" y1="331.10" y2="331.10" stroke="#e6e6e6" stroke-width="0.6"/>
<text x="37.0" y="334.20" text-anchor="end" font-family="Liberation Serif, Times New Roman, serif" font-size="8.9" fill="#111" stroke="#111" stroke-width="0.25" textLength="14.5" lengthAdjust="spacingAndGlyphs" transform="translate(275.9,0)">1.00</text>
<line x1="321.50" x2="543.50" y1="345.68" y2="345.68" stroke="#e6e6e6" stroke-width="0.6"/>
<text x="37.0" y="348.85" text-anchor="end" font-family="Liberation Serif, Times New Roman, serif" font-size="8.9" fill="#111" stroke="#111" stroke-width="0.25" textLength="14.5" lengthAdjust="spacingAndGlyphs" transform="translate(275.9,0)">0.75</text>
<line x1="321.50" x2="543.50" y1="360.25" y2="360.25" stroke="#e6e6e6" stroke-width="0.6"/>
<text x="37.0" y="363.50" text-anchor="end" font-family="Liberation Serif, Times New Roman, serif" font-size="8.9" fill="#111" stroke="#111" stroke-width="0.25" textLength="14.5" lengthAdjust="spacingAndGlyphs" transform="translate(275.9,0)">0.50</text>
<line x1="321.50" x2="543.50" y1="374.82" y2="374.82" stroke="#e6e6e6" stroke-width="0.6"/>
<text x="37.0" y="378.15" text-anchor="end" font-family="Liberation Serif, Times New Roman, serif" font-size="8.9" fill="#111" stroke="#111" stroke-width="0.25" textLength="14.5" lengthAdjust="spacingAndGlyphs" transform="translate(275.9,0)">0.25</text>
<line x1="321.50" x2="543.50" y1="389.40" y2="389.40" stroke="#e6e6e6" stroke-width="0.6"/>
<text x="37.0" y="392.80" text-anchor="end" font-family="Liberation Serif, Times New Roman, serif" font-size="8.9" fill="#111" stroke="#111" stroke-width="0.25" textLength="14.5" lengthAdjust="spacingAndGlyphs" transform="translate(275.9,0)">0.00</text>
<line x1="321.50" x2="543.50" y1="403.98" y2="403.98" stroke="#e6e6e6" stroke-width="0.6"/>
<text x="37.0" y="407.45" text-anchor="end" font-family="Liberation Serif, Times New Roman, serif" font-size="8.9" fill="#111" stroke="#111" stroke-width="0.25" textLength="17.0" lengthAdjust="spacingAndGlyphs" transform="translate(275.9,0)">-0.25</text>
<line x1="321.50" x2="543.50" y1="418.55" y2="418.55" stroke="#e6e6e6" stroke-width="0.6"/>
<text x="37.0" y="422.10" text-anchor="end" font-family="Liberation Serif, Times New Roman, serif" font-size="8.9" fill="#111" stroke="#111" stroke-width="0.25" textLength="17.0" lengthAdjust="spacingAndGlyphs" transform="translate(275.9,0)">-0.50</text>
<line x1="321.50" x2="543.50" y1="433.12" y2="433.12" stroke="#e6e6e6" stroke-width="0.6"/>
<text x="37.0" y="436.75" text-anchor="end" font-family="Liberation Serif, Times New Roman, serif" font-size="8.9" fill="#111" stroke="#111" stroke-width="0.25" textLength="17.0" lengthAdjust="spacingAndGlyphs" transform="translate(275.9,0)">-0.75</text>
<line x1="321.50" x2="543.50" y1="447.70" y2="447.70" stroke="#e6e6e6" stroke-width="0.6"/>
<text x="37.0" y="451.40" text-anchor="end" font-family="Liberation Serif, Times New Roman, serif" font-size="8.9" fill="#111" stroke="#111" stroke-width="0.25" textLength="17.0" lengthAdjust="spacingAndGlyphs" transform="translate(275.9,0)">-1.00</text>
<rect x="322.50" y="341.01" width="4.5" height="48.39" fill="#3b8c47"/>
<rect x="327.35" y="375.70" width="4.4" height="13.70" fill="#b92b31"/>
<rect x="333.60" y="342.47" width="4.5" height="46.93" fill="#3b8c47"/>
<rect x="338.45" y="331.10" width="4.4" height="58.30" fill="#b92b31"/>
<rect x="344.70" y="364.33" width="4.5" height="25.07" fill="#3b8c47"/>
<rect x="349.55" y="389.40" width="4.4" height="5.25" fill="#b92b31"/>
<rect x="355.80" y="368.41" width="4.5" height="20.99" fill="#3b8c47"/>
<rect x="360.65" y="370.16" width="4.4" height="19.24" fill="#b92b31"/>
<rect x="366.90" y="373.37" width="4.5" height="16.03" fill="#3b8c47"/>
<rect x="371.75" y="366.95" width="4.4" height="22.45" fill="#b92b31"/>
<rect x="378.00" y="385.03" width="4.5" height="4.37" fill="#3b8c47"/>
<rect x="382.85" y="371.04" width="4.4" height="18.36" fill="#b92b31"/>
<rect x="389.10" y="385.03" width="4.5" height="4.37" fill="#3b8c47"/>
<rect x="393.95" y="378.91" width="4.4" height="10.49" fill="#b92b31"/>
<rect x="400.20" y="389.40" width="4.5" height="1.46" fill="#3b8c47"/>
<rect x="405.05" y="389.40" width="4.4" height="5.25" fill="#b92b31"/>
<rect x="411.30" y="389.40" width="4.5" height="4.37" fill="#3b8c47"/>
<rect x="416.15" y="389.40" width="4.4" height="7.00" fill="#b92b31"/>
<rect x="422.40" y="389.40" width="4.5" height="8.16" fill="#3b8c47"/>
<rect x="433.50" y="389.40" width="4.5" height="11.66" fill="#3b8c47"/>
<rect x="438.35" y="389.40" width="4.4" height="11.66" fill="#b92b31"/>
<rect x="444.60" y="389.40" width="4.5" height="17.49" fill="#3b8c47"/>
<rect x="449.45" y="389.40" width="4.4" height="20.11" fill="#b92b31"/>
<rect x="455.70" y="389.40" width="4.5" height="26.82" fill="#3b8c47"/>
<rect x="460.55" y="389.40" width="4.4" height="8.74" fill="#b92b31"/>
<rect x="466.80" y="389.40" width="4.5" height="28.57" fill="#3b8c47"/>
<rect x="471.65" y="389.40" width="4.4" height="18.36" fill="#b92b31"/>
<rect x="477.90" y="389.40" width="4.5" height="30.32" fill="#3b8c47"/>
<rect x="482.75" y="389.40" width="4.4" height="26.53" fill="#b92b31"/>
<rect x="489.00" y="389.40" width="4.5" height="33.52" fill="#3b8c47"/>
<rect x="493.85" y="389.40" width="4.4" height="49.55" fill="#b92b31"/>
<rect x="500.10" y="389.40" width="4.5" height="39.06" fill="#3b8c47"/>
<rect x="504.95" y="389.40" width="4.4" height="36.44" fill="#b92b31"/>
<rect x="511.20" y="389.40" width="4.5" height="42.56" fill="#3b8c47"/>
<rect x="516.05" y="389.40" width="4.4" height="44.89" fill="#b92b31"/>
<rect x="522.30" y="389.40" width="4.5" height="51.30" fill="#3b8c47"/>
<rect x="527.15" y="389.40" width="4.4" height="44.02" fill="#b92b31"/>
<rect x="533.40" y="389.40" width="4.5" height="58.30" fill="#3b8c47"/>
<rect x="538.25" y="389.40" width="4.4" height="57.43" fill="#b92b31"/>
<line x1="321.50" x2="321.50" y1="330.80" y2="448.10" stroke="#7c7c7c" stroke-width="0.9"/>
<line x1="321.10" x2="543.50" y1="447.70" y2="447.70" stroke="#5c5c5c" stroke-width="0.9"/>
<text transform="translate(327.05,460.00) scale(0.94,1)" text-anchor="middle" font-family="Liberation Serif, Times New Roman, serif" font-size="9.4" fill="#111" stroke="#111" stroke-width="0.3">G</text>
<text transform="translate(338.15,460.00) scale(0.94,1)" text-anchor="middle" font-family="Liberation Serif, Times New Roman, serif" font-size="9.4" fill="#111" stroke="#111" stroke-width="0.3">L</text>
<text transform="translate(349.25,460.00) scale(0.94,1)" text-anchor="middle" font-family="Liberation Serif, Times New Roman, serif" font-size="9.4" fill="#111" stroke="#111" stroke-width="0.3">P</text>
<text transform="translate(360.35,460.00) scale(0.94,1)" text-anchor="middle" font-family="Liberation Serif, Times New Roman, serif" font-size="9.4" fill="#111" stroke="#111" stroke-width="0.3">S</text>
<text transform="translate(371.45,460.00) scale(0.94,1)" text-anchor="middle" font-family="Liberation Serif, Times New Roman, serif" font-size="9.4" fill="#111" stroke="#111" stroke-width="0.3">A</text>
<text transform="translate(382.55,460.00) scale(0.94,1)" text-anchor="middle" font-family="Liberation Serif, Times New Roman, serif" font-size="9.4" fill="#111" stroke="#111" stroke-width="0.3">E</text>
<text transform="translate(393.65,460.00) scale(0.94,1)" text-anchor="middle" font-family="Liberation Serif, Times New Roman, serif" font-size="9.4" fill="#111" stroke="#111" stroke-width="0.3">V</text>
<text transform="translate(404.75,460.00) scale(0.94,1)" text-anchor="middle" font-family="Liberation Serif, Times New Roman, serif" font-size="9.4" fill="#111" stroke="#111" stroke-width="0.3">R</text>
<text transform="translate(415.85,460.00) scale(0.94,1)" text-anchor="middle" font-family="Liberation Serif, Times New Roman, serif" font-size="9.4" fill="#111" stroke="#111" stroke-width="0.3">T</text>
<text transform="translate(426.95,460.00) scale(0.94,1)" text-anchor="middle" font-family="Liberation Serif, Times New Roman, serif" font-size="9.4" fill="#111" stroke="#111" stroke-width="0.3">K</text>
<text transform="translate(438.05,460.00) scale(0.94,1)" text-anchor="middle" font-family="Liberation Serif, Times New Roman, serif" font-size="9.4" fill="#111" stroke="#111" stroke-width="0.3">D</text>
<text transform="translate(449.15,460.00) scale(0.94,1)" text-anchor="middle" font-family="Liberation Serif, Times New Roman, serif" font-size="9.4" fill="#111" stroke="#111" stroke-width="0.3">Q</text>
<text transform="translate(460.25,460.00) scale(0.94,1)" text-anchor="middle" font-family="Liberation Serif, Times New Roman, serif" font-size="9.4" fill="#111" stroke="#111" stroke-width="0.3">I</text>
<text transform="translate(471.35,460.00) scale(0.94,1)" text-anchor="middle" font-family="Liberation Serif, Times New Roman, serif" font-size="9.4" fill="#111" stroke="#111" stroke-width="0.3">F</text>
<text transform="translate(482.45,460.00) scale(0.94,1)" text-anchor="middle" font-family="Liberation Serif, Times New Roman, serif" font-size="9.4" fill="#111" stroke="#111" stroke-width="0.3">N</text>
<text transform="translate(493.55,460.00) scale(0.94,1)" text-anchor="middle" font-family="Liberation Serif, Times New Roman, serif" font-size="9.4" fill="#111" stroke="#111" stroke-width="0.3">C</text>
<text transform="translate(504.65,460.00) scale(0.94,1)" text-anchor="middle" font-family="Liberation Serif, Times New Roman, serif" font-size="9.4" fill="#111" stroke="#111" stroke-width="0.3">Y</text>
<text transform="translate(515.75,460.00) scale(0.94,1)" text-anchor="middle" font-family="Liberation Serif, Times New Roman, serif" font-size="9.4" fill="#111" stroke="#111" stroke-width="0.3">H</text>
<text transform="translate(526.85,460.00) scale(0.94,1)" text-anchor="middle" font-family="Liberation Serif, Times New Roman, serif" font-size="9.4" fill="#111" stroke="#111" stroke-width="0.3">M</text>
<text transform="translate(537.95,460.00) scale(0.94,1)" text-anchor="middle" font-family="Liberation Serif, Times New Roman, serif" font-size="9.4" fill="#111" stroke="#111" stroke-width="0.3">W</text>
<text transform="translate(287.80,389.40) rotate(-90)" text-anchor="middle" font-family="Liberation Serif, Times New Roman, serif" font-size="9.6" fill="#111" stroke="#111" stroke-width="0.22" textLength="115" lengthAdjust="spacingAndGlyphs">Normalized occurrence frequency</text>
<rect x="503.9" y="331.1" width="39.60" height="20.00" fill="#fff" stroke="#777" stroke-width="0.8"/>
<text x="506.55" y="345.80" font-family="Liberation Serif, Times New Roman, serif" font-size="14.3" fill="#111" stroke="#111" stroke-width="0.3" textLength="33.8" lengthAdjust="spacingAndGlyphs">SPs-<tspan font-style="italic">O</tspan></text>
</g>
</svg></body></html>
